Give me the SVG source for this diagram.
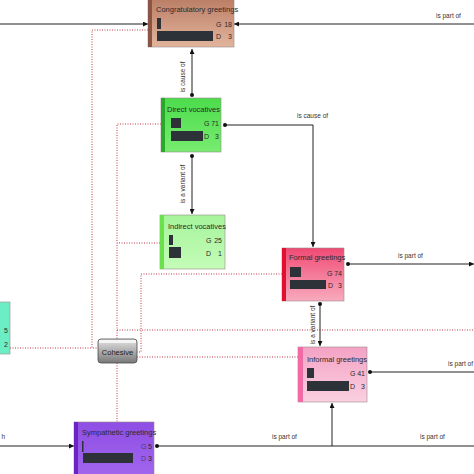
<svg xmlns="http://www.w3.org/2000/svg" width="474" height="474" viewBox="0 0 474 474">
<defs>
<linearGradient id="gBrown" x1="0" y1="0" x2="0" y2="1"><stop offset="0" stop-color="#b87a62"/><stop offset="1" stop-color="#e2b49c"/></linearGradient>
<linearGradient id="gGreen" x1="0" y1="0" x2="0" y2="1"><stop offset="0" stop-color="#4cdc4c"/><stop offset="1" stop-color="#78ec70"/></linearGradient>
<linearGradient id="gLGreen" x1="0" y1="0" x2="0" y2="1"><stop offset="0" stop-color="#a6f49c"/><stop offset="1" stop-color="#c4fcb8"/></linearGradient>
<linearGradient id="gRed" x1="0" y1="0" x2="0" y2="1"><stop offset="0" stop-color="#f04a74"/><stop offset="1" stop-color="#f8aabe"/></linearGradient>
<linearGradient id="gPink" x1="0" y1="0" x2="0" y2="1"><stop offset="0" stop-color="#f4a2c4"/><stop offset="1" stop-color="#fad0e0"/></linearGradient>
<linearGradient id="gPurple" x1="0" y1="0" x2="0" y2="1"><stop offset="0" stop-color="#8e4ee4"/><stop offset="1" stop-color="#a468ee"/></linearGradient>
<linearGradient id="gGray" x1="0" y1="0" x2="0" y2="1"><stop offset="0" stop-color="#e4e4e4"/><stop offset="1" stop-color="#787878"/></linearGradient>
<marker id="arr" viewBox="0 0 10 10" refX="10" refY="5" markerWidth="5" markerHeight="5" orient="auto"><path d="M0,0 L10,5 L0,10 z" fill="#111"/></marker>
<marker id="dot" viewBox="0 0 10 10" refX="5" refY="5" markerWidth="4" markerHeight="4"><circle cx="5" cy="5" r="5" fill="#111"/></marker>
</defs>
<style>
.t{font-family:"Liberation Sans",Arial,sans-serif;font-size:7.5px;fill:#2a2a2a}
.v{font-family:"Liberation Sans",Arial,sans-serif;font-size:7px;fill:#2a2a2a}
.lb{font-family:"Liberation Sans",Arial,sans-serif;font-size:6.5px;fill:#333}
.bar{fill:#2c3238}
.box{stroke:#9a8a8a;stroke-width:0.6}
.ln{fill:none;stroke:#222;stroke-width:1}
.dt{fill:none;stroke:#c43a44;stroke-width:1;stroke-dasharray:1 1.5}
</style>
<rect width="474" height="474" fill="#ffffff"/>

<g id="cohesion-links">
<path class="dt" d="M148,30 H92 V348 H98"/>
<path class="dt" d="M10,348 H92"/>
<path class="dt" d="M161,124 H117 V339"/>
<path class="dt" d="M160,243 H117"/>
<path class="dt" d="M117,363 V422"/>
<path class="dt" d="M117,330 H474"/>
<path class="dt" d="M282,274 H141 V352 H137"/>
<path class="dt" d="M137,357 H298"/>
</g>

<g id="connectors">
<path class="ln" d="M0,24 H148" marker-end="url(#arr)"/>
<path class="ln" d="M474,24 H234" marker-end="url(#arr)"/>
<text class="lb" x="436" y="18">is part of</text>
<path class="ln" d="M192,95 V49" marker-start="url(#dot)" marker-end="url(#arr)"/>
<text class="lb" transform="translate(185,77) rotate(-90)" text-anchor="middle">is cause of</text>
<path class="ln" d="M192,156 V214" marker-start="url(#dot)" marker-end="url(#arr)"/>
<text class="lb" transform="translate(185,184) rotate(-90)" text-anchor="middle">is a variant of</text>
<path class="ln" d="M225,125 H313 V247" marker-start="url(#dot)" marker-end="url(#arr)"/>
<text class="lb" x="297" y="118">is cause of</text>
<path class="ln" d="M348,264 H474" marker-start="url(#dot)" marker-end="url(#arr)"/>
<text class="lb" x="398" y="258">is part of</text>
<path class="ln" d="M320,304 V346" marker-start="url(#dot)" marker-end="url(#arr)"/>
<text class="lb" transform="translate(315,325) rotate(-90)" text-anchor="middle">is a variant of</text>
<path class="ln" d="M370,372 H474" marker-start="url(#dot)"/>
<text class="lb" x="473" y="366" text-anchor="end">is part of</text>
<path class="ln" d="M0,446 H74" marker-end="url(#arr)"/>
<text class="lb" x="5" y="439" text-anchor="end">h</text>
<path class="ln" d="M157,446 H474" marker-start="url(#dot)"/>
<text class="lb" x="272" y="439">is part of</text>
<text class="lb" x="420" y="439">is part of</text>
<path class="ln" d="M332,446 V403" marker-end="url(#arr)"/>
</g>

<g id="node-congratulatory">
<rect class="box" x="148" y="-5" width="86" height="52" fill="url(#gBrown)"/>
<rect x="148" y="-5" width="4" height="52" fill="#8c5444"/>
<text class="t" x="156" y="12">Congratulatory greetings</text>
<rect class="bar" x="157" y="18" width="4" height="11"/>
<rect class="bar" x="157" y="31" width="56" height="10"/>
<text class="v" x="216" y="27">G</text><text class="v" x="232" y="27" text-anchor="end">18</text>
<text class="v" x="216" y="39">D</text><text class="v" x="232" y="39" text-anchor="end">3</text>
</g>

<g id="node-direct-vocatives">
<rect class="box" x="161" y="98" width="60" height="54" fill="url(#gGreen)"/>
<rect x="161" y="98" width="4" height="54" fill="#2aa82a"/>
<text class="t" x="167" y="112">Direct vocatives</text>
<rect class="bar" x="171" y="118" width="10" height="10"/>
<rect class="bar" x="171" y="131" width="32" height="10"/>
<text class="v" x="204" y="126">G</text><text class="v" x="219" y="126" text-anchor="end">71</text>
<text class="v" x="204" y="139">D</text><text class="v" x="219" y="139" text-anchor="end">3</text>
</g>

<g id="node-indirect-vocatives">
<rect class="box" x="160" y="215" width="65" height="54" fill="url(#gLGreen)"/>
<rect x="160" y="215" width="4" height="54" fill="#6ae04a"/>
<text class="t" x="168" y="229">Indirect vocatives</text>
<rect class="bar" x="169" y="235" width="4" height="10"/>
<rect class="bar" x="169" y="247" width="12" height="11"/>
<text class="v" x="206" y="243">G</text><text class="v" x="222" y="243" text-anchor="end">25</text>
<text class="v" x="206" y="256">D</text><text class="v" x="222" y="256" text-anchor="end">1</text>
</g>

<g id="node-formal-greetings">
<rect class="box" x="282" y="248" width="62" height="53" fill="url(#gRed)"/>
<rect x="282" y="248" width="4" height="53" fill="#e0102e"/>
<text class="t" x="289" y="260">Formal greetings</text>
<rect class="bar" x="290" y="267" width="11" height="10"/>
<rect class="bar" x="290" y="280" width="36" height="9"/>
<text class="v" x="327" y="276">G</text><text class="v" x="342" y="276" text-anchor="end">74</text>
<text class="v" x="328" y="288">D</text><text class="v" x="342" y="288" text-anchor="end">3</text>
</g>

<g id="node-informal-greetings">
<rect class="box" x="298" y="347" width="69" height="55" fill="url(#gPink)"/>
<rect x="298" y="347" width="5" height="55" fill="#f06aa4"/>
<text class="t" x="307" y="362">Informal greetings</text>
<rect class="bar" x="307" y="368" width="7" height="10"/>
<rect class="bar" x="307" y="381" width="42" height="10"/>
<text class="v" x="350" y="376">G</text><text class="v" x="365" y="376" text-anchor="end">41</text>
<text class="v" x="350" y="389">D</text><text class="v" x="365" y="389" text-anchor="end">3</text>
</g>

<g id="node-sympathetic-greetings">
<rect class="box" x="74" y="422" width="80" height="60" fill="url(#gPurple)"/>
<rect x="74" y="422" width="4" height="60" fill="#6a24c4"/>
<text class="t" x="82" y="435">Sympathetic greetings</text>
<rect class="bar" x="82" y="441" width="1.5" height="11"/>
<rect class="bar" x="83" y="453" width="50" height="10"/>
<text class="v" x="141" y="449" fill-opacity="0.7">G</text><text class="v" x="152" y="449" text-anchor="end">5</text>
<text class="v" x="141" y="461" fill-opacity="0.7">D</text><text class="v" x="152" y="461" text-anchor="end">3</text>
</g>

<g id="node-left-partial">
<rect class="box" x="-10" y="302" width="20" height="52" fill="#6ceec4"/>
<text class="v" x="8" y="333" text-anchor="end">5</text>
<text class="v" x="8" y="347" text-anchor="end">2</text>
</g>

<g id="node-cohesive">
<rect x="98" y="339" width="39" height="24" rx="3" fill="url(#gGray)" stroke="#4a4a4a" stroke-width="0.8"/>
<rect x="99" y="340" width="37" height="3" fill="#f4f4f4"/>
<text x="117.5" y="355" text-anchor="middle" style="font-family:'Liberation Sans',Arial,sans-serif;font-size:7.5px;fill:#222">Cohesive</text>
</g>
</svg>
